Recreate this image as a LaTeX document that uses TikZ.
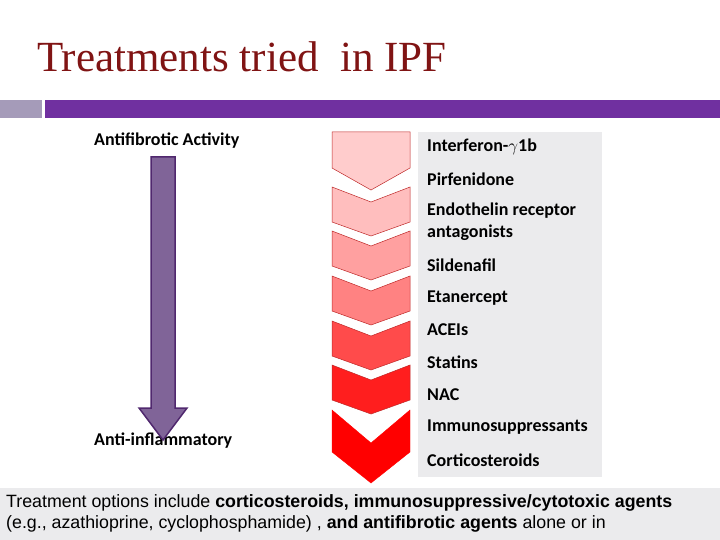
\documentclass[tikz,border=0pt]{standalone}
\usepackage{fontspec}
\setmainfont{Carlito}
\newfontfamily\titlefont{Liberation Serif}
\newfontfamily\arialfont{Liberation Sans}
\definecolor{titlered}{RGB}{128,20,20}
\definecolor{barpurple}{RGB}{112,48,160}
\definecolor{bargray}{RGB}{165,155,185}
\definecolor{boxgray}{RGB}{235,235,237}
\definecolor{arrfill}{RGB}{128,100,152}
\definecolor{arrdraw}{RGB}{80,40,110}
\definecolor{chevdraw}{RGB}{190,40,40}
\begin{document}
\begin{tikzpicture}[x=1pt,y=-1pt,
  item/.style={anchor=west,font=\bfseries\fontsize{18}{21}\selectfont,align=left,inner sep=0},
  chev/.style={draw=chevdraw,line width=0.5pt}]
\useasboundingbox (0,0) rectangle (720,540);
\node[anchor=base west,text=titlered,font=\titlefont\fontsize{43}{46}\selectfont,inner sep=0] (title) at (37,72) {Treatments tried\ \ in IPF};
\fill[bargray] (0,100) rectangle (42,118);
\fill[barpurple] (45,100) rectangle (720,118);
\fill[boxgray] (418,132) rectangle (602,477);
\node[item] (lab1) at (94,141) {Antifibrotic Activity};
\node[item] (lab2) at (94,441) {Anti-inflammatory};
\draw[fill=arrfill,draw=arrdraw,line width=1.5pt] (151,157) -- (175,157) -- (175,408) -- (187,408) -- (163,440) -- (139,408) -- (151,408) -- cycle;
% chevrons
\filldraw[chev,fill={rgb,255:red,255;green,204;blue,204}] (332,132) -- (410,132) -- (410,168) -- (371,190) -- (332,168) -- cycle;
\foreach \t/\g in {187/190,231/160,276/130,321/75,365/30}{
  \definecolor{cc}{RGB}{255,\g,\g}
  \filldraw[chev,fill=cc] (332,\t) -- (371,\t+15) -- (410,\t) -- (410,\t+35) -- (371,\t+49) -- (332,\t+35) -- cycle;
}
\filldraw[draw=red,fill=red] (332,410) -- (371,443) -- (410,410) -- (410,452) -- (371,483) -- (332,452) -- cycle;
\node[item] (t1) at (427,147) {Interferon-$\gamma$1b};
\node[item] (t2) at (427,179) {Pirfenidone};
\node[item] (t3) at (427,222) {Endothelin receptor\\[1pt]antagonists};
\node[item] (t4) at (427,265) {Sildenafil};
\node[item] (t5) at (427,298) {Etanercept};
\node[item] (t6) at (427,330) {ACEIs};
\node[item] (t7) at (427,362) {Statins};
\node[item] (t8) at (427,395) {NAC};
\node[item] (t9) at (427,427) {Immunosuppressants};
\node[item] (t10) at (427,460) {Corticosteroids};
\fill[boxgray] (0,488) rectangle (720,540);
\node[anchor=north west,inner sep=0,align=left,font=\arialfont\fontsize{17.8}{21}\selectfont] (foot) at (6,494)
 {Treatment options include \textbf{corticosteroids, immunosuppressive/cytotoxic agents}\\
 (e.g., azathioprine, cyclophosphamide) , \textbf{and antifibrotic agents} alone or in};
\end{tikzpicture}
\end{document}
